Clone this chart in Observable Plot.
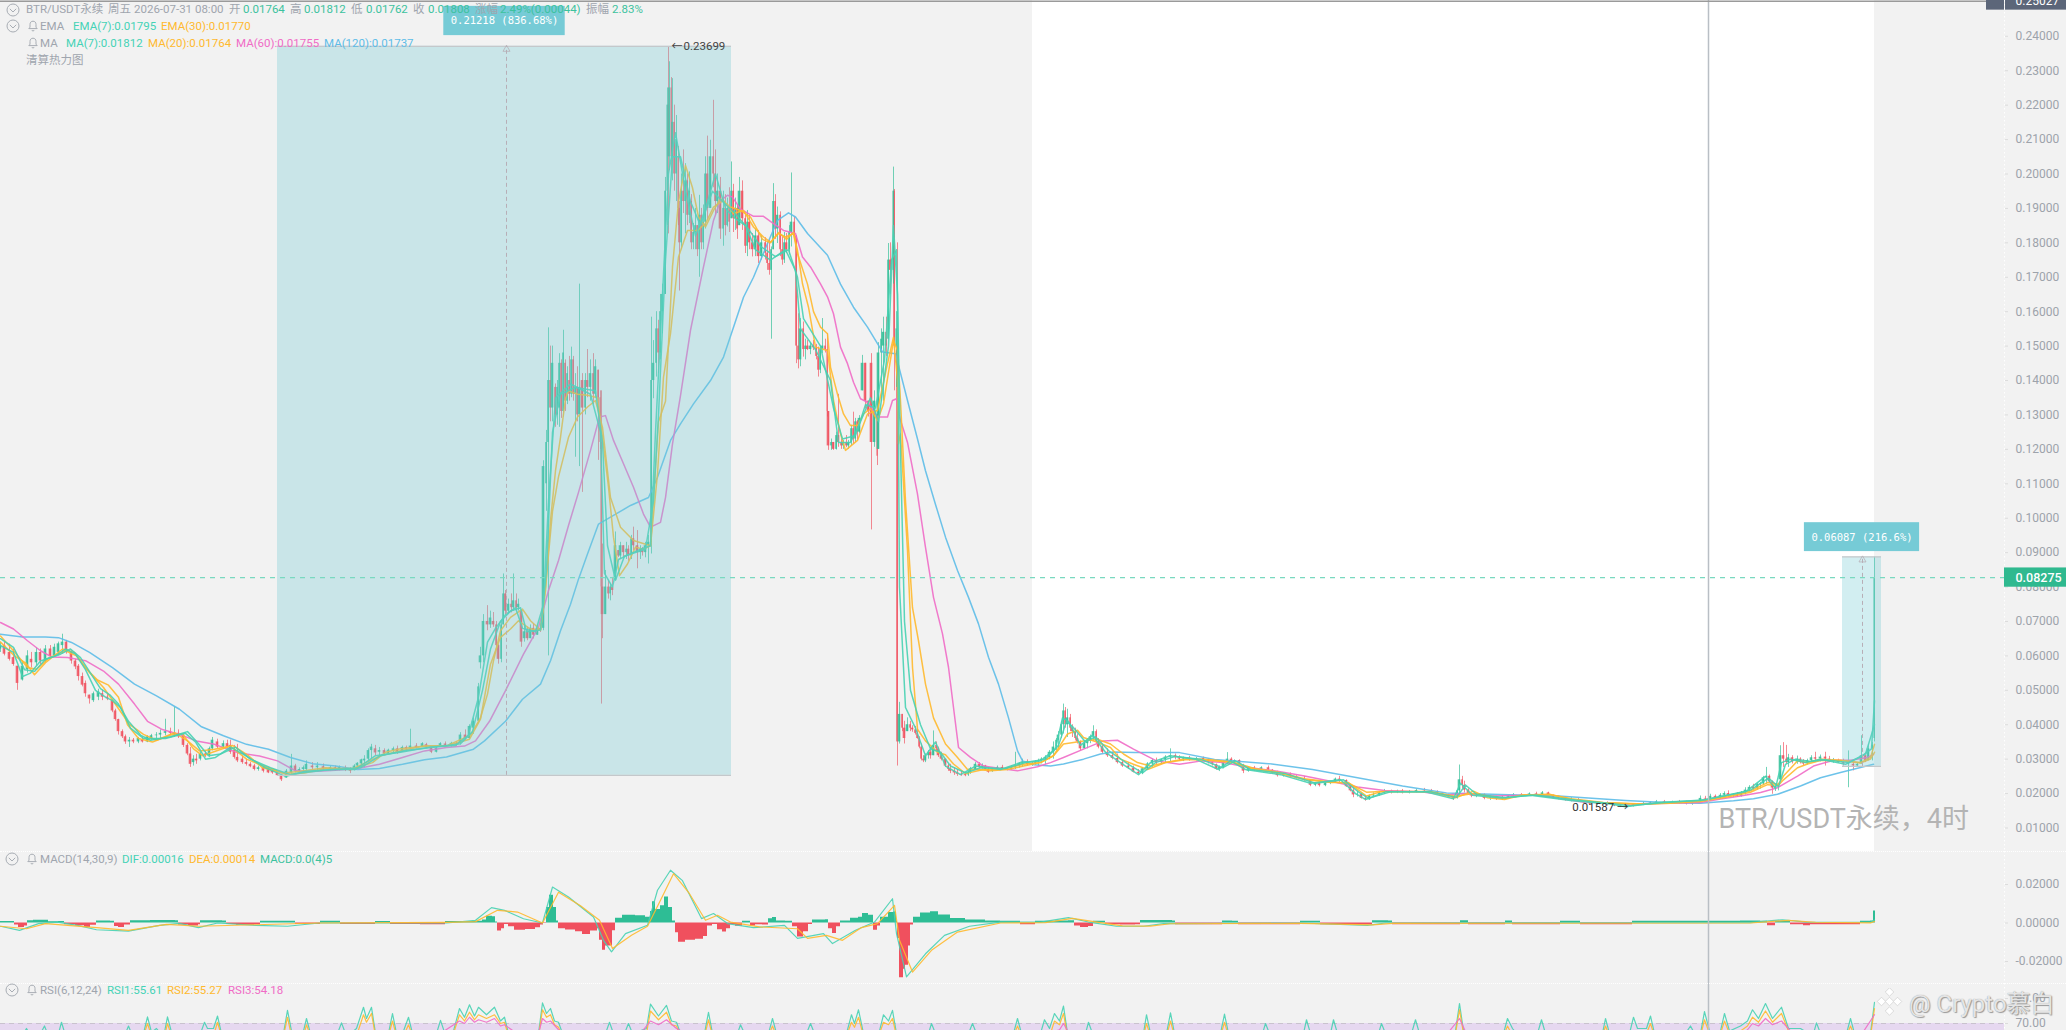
<!DOCTYPE html>
<html><head><meta charset="utf-8">
<script src="https://cdn.jsdelivr.net/npm/d3@7"></script>
<script src="https://cdn.jsdelivr.net/npm/@observablehq/plot@0.6"></script>
<style>
html,body{margin:0;padding:0;background:#F2F2F2;overflow:hidden}
#app{position:relative;width:2066px;height:1030px;overflow:hidden;font-family:Roboto,"Noto Sans CJK SC",sans-serif;background:#F2F2F2}
.pane{position:absolute;left:0}
.pane svg{display:block;background:transparent}
.t{position:absolute;white-space:nowrap;font-size:11.5px;line-height:14px}
</style></head><body><div id="app"></div>
<script>
// prices are in thousandths of USDT; the first column is the position along the time axis
// candle rows: [time, open, high, low, close]
const earlyBars=[[0,62,64,61,63],[4,63,64,60,60.5],[9,61,63.4,58.5,59],[13,59.5,62,57,57.5],[17,57,56.8,50,52],[22,53,58.5,52.7,57],[27,56,61.5,55,60],[31,59,61,56.5,58],[36,58,62.4,57,61],[40,61,62,57.5,58.5],[45,58.5,63,58,62],[50,62,63,59,59.8],[54,60,63.4,59.5,62.5],[58,61,64,60,63.5],[62,63,66.3,60.5,64],[66,64,64.5,60.5,61],[71,61,61.5,57.6,58.5],[75,58.5,59,56,56.8],[78,57,57.5,52.7,54],[82,54,55,51,51.5],[85,52,52.7,48,49],[89,48.6,48.4,46,47.5],[93,47,49.5,46.5,49],[98,48,50.3,47,49.5],[102,49,50,47,48],[107,48,48.9,47,47.5],[112,47,47.3,43.5,44],[115,44,44.5,41,41.5],[118,41.5,41.6,37,38],[122,38,38.5,36,36.5],[125,36.5,37,34.3,35],[129,35,36.3,33.4,35.5],[133,35.5,36,34.5,35],[138,35,36.3,34.5,36],[142,35.6,36.4,34.7,35],[147,35,36.8,34.8,36.5],[151,36,37.2,35.5,36.8],[156,36.8,37.7,35.8,37],[160,37,38.5,36,37.5],[165,37.5,41.6,36.8,38],[170,38,39,36.8,37.5],[174,37,45.2,36.3,37.5],[178,37.5,38.5,36,36.5],[183,37,37.2,33.4,34],[187,34,34.5,31,31.5],[190,31.5,33.4,27.6,28.5],[193,29,31,28,30],[196,30,31.4,28.5,29.5],[200,30,32,29.5,31.5],[205,31.5,32.4,30.5,31],[209,31,33.5,30.5,33],[212,33,36.3,32.4,35.5],[217,35,35.8,33,33.5],[223,33.5,35.3,32.9,34.5],[227,34.5,35.5,33,33.5],[230,34,35.5,31.4,32],[234,32.5,34,30,30.5],[237,30.5,34.3,29,29.5],[242,30,31,28.5,29],[246,29,30,28,28.5],[250,28.5,29,27.5,27.8],[254,28,28.5,26.6,27],[258,27,28,26.5,27.5],[263,27.5,28,26,26.5],[268,27,27.5,25.8,26],[272,26.5,27,25.6,26],[277,26,26.5,25,25.2],[281,25,25.6,23.5,24],[286,24.5,27,25,26.5],[291,26,31.4,25.6,28],[295,28,28.5,26,26.5],[299,26.5,27.5,25.6,27],[303,27,28,26.3,27.5],[306,27,29.5,26.6,28.5],[312,28,29,26.8,27.5],[317,27.5,29,26.6,28],[323,27.8,28.6,26.5,27.2],[330,27,28,26.4,27.5],[335,27.5,28,26.5,27],[339,27,28,26.6,27.6],[345,27.4,28,26.4,26.8],[350,27,27.5,25.8,26.5],[354,27,28.4,26.6,28],[357,28,29,27,28.8],[361,28.6,30,27.3,29.8],[364,29.5,31,27.5,30],[368,30,33,29.5,32.5],[371,32.5,34.3,30,33.5],[375,33,34,31,31.8],[379,32,33.4,31,32.5],[384,32.5,33,31,31.5],[388,31.5,32.9,31.2,32.6],[393,32.5,33.5,31.4,33],[397,33,33.8,31.4,32],[402,32,33.8,32,33.4],[406,33.4,33.8,32.4,33],[410,33,38.7,32.9,33.8],[416,33.8,34.5,33,33.3],[422,33.5,34.8,33.4,34.5],[426,34.2,34.6,33,33.4],[431,33.2,33.4,31.6,32],[436,32,33.5,31.8,33.2],[440,33.4,34.8,33.4,34.5],[445,34.4,35,33.5,34],[451,34,34.9,33.5,34.6],[456,34.6,35,33.7,34.4],[460,34.6,37.7,34.1,37],[465,37,38.5,35.5,36],[469,36,40,35.8,39.5],[473,39,42,37.2,41],[478,41,52,41,51]];
const riseBars=[[480,58,62.5,56.2,60],[483,60,72,58,70],[487,70,74.6,67.3,69],[490,69,73,68,71],[493,70,72.6,68.3,69],[496,69,70,62,63],[498,63,63.4,57.6,59],[501,59,70,58,69],[503,69,83.8,69.3,78],[505,78,79,72,73],[508,73,76.5,72,75],[511,75,78,72.5,74],[513,74,83.8,73,76],[516,76,78,73,74],[518,74,76.5,73,75],[521,73,73,62.5,64],[524,65,69,64,67],[527,67,68.3,64.4,65],[530,65,69,65,68],[533,68,69.3,64.9,66],[537,66,69,66,68],[540,68,69.3,66.8,67.5],[543,68,116.7,67.3,115],[546,110,125.5,102,122],[548,122,155.3,60,140],[550,140,150,128,132],[552,132,150,128,145],[555,138,139,126.4,130],[557,130,140,127,138],[559,132,147.8,126.4,145],[561,145,146,129,131],[563,131,154.6,129.4,148],[565,145,146,131,134],[567,134,144,133,142],[569,140,147,134,136],[571,136,149.7,135,146],[573,146,147,134,136],[575,136,142,117.7,138],[577,138,144,128,130],[579,130,168,115,138],[582,140,142,107.5,132],[585,132,142,130,140],[587,140,149,135,138],[590,138,146,134,142],[593,142,147.8,133,136],[595,136,146,135,144],[598,143,143,116.8,135],[600,135,137,120,122],[601,122,137,46,80],[602,80,92.5,65,72],[605,72,84.8,72,80],[608,80,81.9,76.5,78],[610,78,81,76,80],[612,80,82.8,77.5,79],[615,82,96,82.8,92],[618,90.6,90.6,88.6,89],[620,89,93,88,92],[623,92,92,88.6,90],[626,90,93,88,91],[628,91,92,87.5,89],[631,89,95,88,94],[633,94,97.4,90.6,92],[637,92,96.4,85.3,90],[640,90,92,88,91],[642,91,91.5,89,90],[645,90,93,88.5,92],[648,92,95,86.7,93],[651,93,158.4,89.6,140],[653,140,151.6,134.7,145],[656,145,160,141,155],[658,155,157.5,142,148],[660,148,165,146,160],[662,160,168,153.6,165]];
const peakBars=[[665,165,199,168,195],[667,195,225,185,220],[668,220,237,182.6,205],[669,205,232.6,201,225],[671,225,228,200,205],[672,205,227.7,198,215],[674,215,220,195,200],[676,200,217,192,210],[678,205,208,185,190],[679,190,192,166,180],[681,180,200,178,195],[683,195,207,188.5,192],[685,192,203,182.6,198],[687,198,200,185,188],[689,188,200.6,185.6,195],[691,192,194,178,180],[693,180,185.6,178,183],[695,183,190,178,185],[697,185,183.6,176,178],[699,178,193.8,170,188],[701,188,190,178,180],[703,180,191,178,186],[705,186,205,184,200],[707,200,211,186.5,190],[710,190,209.8,190.4,205],[713,205,221.4,196,200],[715,200,207,188,192],[717,192,200,188.5,195],[720,195,199,181,184],[723,184,195,179,190],[725,190,194,182,185],[727,185,193,184.6,190],[729,190,196,183,186],[731,187,203.5,187.5,195],[733,195,197,183,187],[735,187,193,183.6,190],[737,190,191,181,184],[739,185,199,188.5,195],[742,195,198,183.6,187],[745,187,188,176.9,179],[747,179,189.4,176,186],[749,186,188,178,180],[752,180,182.7,175.9,178],[755,178,184,176,182],[758,182,183.6,174,176],[761,176,182,175,180],[765,180,181.5,175,177],[767,177,180,172,174],[769,174,180.7,170.6,172],[771,172,178.8,152,178],[773,178,197.2,181.7,192],[775,192,194,181,184],[777,184,190.4,179.8,188],[780,188,189,176,178],[782,178,181.7,173.5,175],[784,175,183,174,180],[786,180,182.7,176.9,178],[789,178,185,176.5,183],[791,183,200.3,178.8,186],[794,186,187.5,180.7,182],[796,182,177.8,144.9,150]];
const crashBars=[[798,150,159.4,143.4,146],[800,146,158,144,155],[803,155,157,146.8,149],[805,149,152,146,150],[807,150,151.6,148.7,149],[810,149,151,147.5,150],[813,150,151.6,148.7,149.5],[816,149.5,150.5,146,147],[818,147,149.7,141,143],[820,143,150,142,149],[822,149,158,147.8,150],[825,150,152,148,149],[827,149,153.6,129.4,131],[828,131,129.4,119.7,121],[831,121,123,119.7,122],[833,122,121.1,119.7,120],[836,120,125,119.8,124],[838,124,136,120.6,122],[841,122,123,120,121],[843,121,122.6,120,122],[846,122,124,120.5,121],[848,121,122.6,120,122],[851,122,127,121,126],[853,126,130.8,121.6,123],[855,123,129,122,128],[857,128,128.4,122.6,125],[859,125,129.8,124.5,129],[862,137,147.3,137,145],[865,145,143.9,131.8,134],[868,134,134,129.4,131],[871,145,147.8,96.6,122],[874,122,137,120.6,134],[877,130,130,115.3,118],[878,120,151,120,148],[881,148,155,134,152],[883,150,158.4,134,154],[886,154,158.4,147,150],[888,152,179.8,152.6,175],[890,175,180,165,172],[893,172,202,168,195],[894,195,195.5,137,150],[896,150,160,138,155],[897,150,180,28,35],[899,35,46.5,34.4,43],[902,43,42,38,39],[904,39,41,34.4,36],[907,38,42,38,40],[910,40,41,38,39],[912,39,39.7,37.8,38.5],[915,38.5,39.5,37,37.5],[917,37.5,38.7,35.8,36],[919,36,36.5,33,33.5],[921,33.5,34.4,29.5,30],[923,30,31,29,29.5],[925,29.5,31.5,29,31],[928,31,32.5,30,32],[930,32,33.4,30,31],[933,31,38.2,32.4,34],[936,34,35,32.5,33],[938,33,33.5,30.5,31],[941,31,32,29.5,30],[945,30,29.5,27.6,28],[948,28,28.5,26.5,27],[950,27,28.5,25.8,26.5],[954,26.5,27.5,25.3,26],[957,26,27,25,25.6],[961,25.6,26.5,25,25.4],[965,25.5,26,24.9,25.2],[968,25.4,26.5,25,26.2],[970,26,27.6,25.6,27.2],[975,27,29,27,28.5],[979,28.5,29,27.2,27.6],[982,27.6,28.6,27.1,28],[985,28,28.2,26.8,27],[988,27,27.6,25.9,26.2],[992,26.4,27.5,26.2,27.2],[997,27.2,28,27,27.6],[1002,27.6,28.2,27,27.2],[1007,27.2,27.6,26.6,27],[1011,27,28,26.8,27.6],[1015,27.5,32,27,28],[1019,28,29,27.4,28.8],[1022,28.8,30,27.6,29.2],[1027,29.2,29.8,28,28.4],[1032,28.4,29.2,27.9,28.8],[1035,28.8,29.6,28.2,29.3],[1038,29.3,30,28,29.6],[1041,29.6,30.4,28.6,30],[1045,30,31,28.5,30.5],[1049,30.5,32.5,29.8,32],[1053,32,35,30,33.5],[1056,33.5,36,32.5,35.5],[1058,35.5,38,33,37],[1061,37,41,36,40],[1063,40,46,37.3,44],[1065,44,45,39,40],[1067,40,44.5,36.3,42],[1070,42,43,38,39],[1072,39,40,36.3,38],[1075,38,39,35.5,36],[1077,36,37.3,34.4,35],[1080,35,35.3,32.4,33],[1084,33,35,33,34.5],[1087,34.5,36,33,35.5],[1090,35.5,37,34.5,36.5],[1093,36.5,39.7,35.3,38],[1096,38,38.5,34.5,35],[1098,35,36,33,33.5],[1102,33.5,34,31.5,32],[1107,32,33,30.5,31],[1112,31,32,29.8,30.2],[1117,30.2,31.5,28.6,29],[1122,29,29.6,27.6,28],[1128,28,29,27,27.4],[1133,27.4,28,26,26.2],[1138,26.2,27,25.4,25.8],[1142,25.8,27.5,25.5,27.2],[1147,27.2,29,27,28.6]];
const baseBars=[[1152,28.6,30,27.6,29.6],[1156,29.6,30.3,28.4,29],[1161,29,30,28.5,29.8],[1165,29.8,31,29,30.6],[1170,30.6,33,29,31],[1175,31,31.5,29.8,30.4],[1179,30.4,31,29.4,30],[1183,30,30.6,29.3,30.2],[1189,30.2,30.8,29.4,29.8],[1196,29.8,30.5,29.5,30.2],[1203,30.2,30.6,29.4,29.8],[1208,29.8,30,28.6,29],[1212,29,29.4,28,28.4],[1216,28.4,28.6,26.8,27],[1219,27,28,26.4,27.6],[1223,27.6,29.5,27.2,29],[1227,29,31.9,28.5,30],[1231,30,30.4,28.8,29.2],[1234,29.2,29.8,28.5,29.6],[1239,29.6,29.8,28,28.2],[1243,28.2,28.5,25.8,26.5],[1248,26.5,27.8,26.2,27.4],[1254,27.4,27.9,26.4,27],[1261,27,27.8,26.6,27.5],[1268,27.5,28,26.5,26.8],[1272,26.8,27,25.6,25.9],[1277,25.9,26.5,24.8,25.2],[1283,25.2,26,24.8,25.6],[1290,25.6,26,24.6,24.9],[1296,24.9,25.2,24.2,24.4],[1304,24.4,25,23.6,24],[1310,23.8,23,22,22.4],[1315,22.4,23.2,22,22.9],[1319,22.9,23.1,21.9,22.3],[1325,22.3,23.2,22,23],[1330,23,23.6,22.6,23.2],[1335,23.2,24.5,23,24.2],[1339,24.2,25,23,23.8],[1346,23.8,24,21.8,22],[1350,22,22.4,20.5,20.8],[1353,20.8,22.2,18.8,19.6],[1357,19.6,20.6,19,19.8],[1361,19.8,20,18.4,18.6],[1365,18.6,19.3,17.8,18.2],[1369,18.2,19.6,18,19.3],[1373,19.3,20.2,18.8,19.6],[1379,19.6,20.6,19.2,20.2],[1384,20.2,21.2,19.8,20.6],[1391,20.6,21,19.9,20.4],[1397,20.4,21,20,20.7],[1402,20.7,21.2,19.9,20.2],[1409,20.2,20.9,19.9,20.5],[1416,20.5,21.2,20.2,20.9],[1424,20.9,21.5,20.5,20.8],[1431,20.8,21.2,20.2,20.5],[1437,20.5,20.8,19.8,20],[1442,20,20.2,19.3,19.6],[1448,19.6,19.8,18.8,19],[1453,19,19.2,18,18.4],[1457,18.6,21,18.4,20.8],[1459,20.8,28.3,19.3,24],[1462,24,25,21.5,22.4],[1464,22.4,23.6,20.2,21],[1468,21,21.4,19.6,20],[1471,20,20.2,18.8,19.3],[1476,19.3,20,18.8,19.6],[1484,19.6,19.9,18.2,18.6],[1490,18.6,19.2,18,18.8],[1496,18.8,19.2,18,18.4],[1502,18.4,19.3,18,18.9],[1508,18.9,19.5,18.5,19.3],[1513,19.3,20,18.8,19.6],[1521,19.6,20,19,19.4],[1529,19.4,20.2,19.2,19.9],[1536,19.9,20.4,19.2,19.6],[1542,19.6,20.6,19.3,20.2],[1548,20.2,20.4,19.2,19.4],[1553,19.4,19.6,18.6,18.8],[1558,18.8,19.3,18.2,18.6],[1565,18.6,18.9,17.8,18],[1571,18,18.8,17.6,18.2],[1578,18.2,18.6,17.4,17.7],[1584,17.7,18,17,17.2],[1589,17.2,17.8,16.6,17],[1597,17,17.6,16.6,17.3],[1607,17.3,17.6,16.4,16.8],[1614,16.8,17,16.2,16.4],[1620,16.4,16.8,16,16.2],[1625,16.2,16.7,15.87,16.4],[1633,16.4,17,16.1,16.8],[1643,16.8,17.5,16.5,17.1],[1650,17.1,17.6,16.7,17.3],[1656,17.3,18,17,17.6],[1664,17.6,18,17,17.2],[1672,17.2,17.8,16.9,17.5],[1679,17.5,18,17,17.4],[1686,17.4,17.8,16.7,17],[1692,17,17.4,16.6,17.2]];
const lateBars=[[1700,17.6,19.3,17.4,18.6],[1705,18.6,19.2,17.8,18.4],[1710,18.4,19.8,17.9,19.2],[1715,19.2,19.6,18.4,18.8],[1720,18.8,20,18.3,19.5],[1724,19.5,20.5,19,20],[1728,20,20.8,18.9,19.4],[1733,19.4,20,18.8,19.6],[1737,19.6,20.3,18.9,19.2],[1741,19.2,20.6,19,20.2],[1745,20.2,21.7,19.6,21],[1749,21,22.3,20.4,21.8],[1753,21.8,22.7,20.8,21.4],[1757,21.4,23,21,22.6],[1760,22.6,23.2,21.3,22.8],[1763,22.8,25,22.3,24.6],[1766,24.6,27.6,22.7,25],[1769,25,25.4,23,23.4],[1772,23.4,23.7,19.8,21.6],[1775,21.6,22.6,20.6,22],[1778,22,23,20.8,22.6],[1780,24,33.9,24,31],[1783,31,34.8,27.6,30],[1786,30,34,28.4,29],[1788,29,31.4,27.6,30.4],[1792,30.4,31,28.6,29.2],[1797,29.2,30.9,28.5,30],[1800,30,30.4,28.6,29],[1803,29,29.9,28,28.6],[1807,28.6,30,28.3,29.6],[1811,29.6,31,29,30.4],[1815,30.4,32,29,30],[1820,30,31.2,29.2,30.6],[1825,30.6,32,28,30],[1829,30,30.8,29,29.4],[1833,29.4,30.2,28.8,29.6],[1838,29.6,30,28.8,29],[1843,29,30,28,28.5],[1848,28.5,32.4,21.7,29],[1853,28.5,29.5,26.6,28],[1857,28,29,27.7,28.5],[1861,28.6,36.8,29,31],[1865,31,30.5,29,29.6],[1868,29.6,34.3,29.5,33],[1872,33,34.8,29.5,34],[1874,36,88.7,35,82.75]];

const ema7=[[0,63],[13,61],[22,54],[30,55],[40,58.5],[55,60],[65,62],[75,60.5],[85,56],[95,50],[105,48],[112,47],[120,45],[130,39],[143,36],[165,36],[185,37.5],[195,35],[205,30],[215,30.5],[230,33.5],[245,31],[265,27.5],[285,25],[300,26],[330,27],[355,27],[375,31],[400,32],[430,33.5],[455,34],[468,37],[478,48],[487,64],[495,68],[505,72],[515,74],[522,68],[535,67],[543,75],[548,105],[555,135],[570,139],[590,136],[600,125],[604,84],[612,80],[618,88],[640,91],[650,92],[655,125],[662,165],[668,200],[675,212],[685,195],[695,182],[705,190],[715,200],[725,190],[735,187],[745,185],[755,178],[770,175],[785,178],[795,172],[800,155],[815,149],[830,140],[838,122],[850,122],[860,128],[870,135],[878,128],[888,150],[893,185],[897,165],[899,80],[905,45],[915,39],[925,31],[935,35],[945,28],[960,25.5],[975,28],[1000,27],[1020,29],[1040,29.5],[1055,33],[1062,42],[1068,41],[1080,34],[1092,37],[1105,32],[1125,28],[1138,25.5],[1150,29],[1170,31],[1195,30],[1218,27],[1230,29.5],[1245,27],[1280,25.5],[1310,23],[1340,24],[1355,20],[1365,18.3],[1385,20.5],[1425,20.5],[1453,18.5],[1460,23],[1472,19.5],[1500,18.7],[1530,19.5],[1570,18],[1610,17],[1625,16.2],[1660,17.5],[1700,18],[1745,20.5],[1765,25],[1775,21.5],[1781,29],[1790,30],[1805,29],[1820,30],[1845,28.5],[1862,31],[1871,33],[1874,47]];
const ma7=[[0,65],[13,62.5],[24,56],[34,55.5],[45,59],[60,60.5],[70,62],[80,59.5],[90,55],[100,50.5],[110,48.5],[118,46],[128,41],[140,37],[150,35.5],[170,36.5],[187,38],[198,34.5],[208,31],[220,31.5],[235,33.5],[250,30],[270,27.5],[290,25.5],[305,26.5],[335,27],[360,27.5],[380,31],[405,32.5],[435,33.5],[460,34.5],[472,38],[482,50],[490,62],[500,70],[510,73],[520,74],[526,67],[540,67.5],[546,85],[552,125],[560,136],[575,138],[595,137],[602,122],[607,92],[615,82],[624,89],[645,91],[653,105],[658,130],[665,175],[672,205],[680,205],[690,192],[700,185],[712,195],[722,192],[733,189],[748,184],[760,179],[775,176],[788,178],[797,170],[803,158],[820,150],[833,132],[842,123],[855,124],[865,133],[875,132],[884,146],[891,175],[896,178],[900,120],[904,70],[910,50],[920,40],[930,33],[940,32],[950,28],[965,26],[980,27.5],[1005,27.3],[1025,29],[1045,30],[1058,34],[1066,41],[1072,39.5],[1085,35],[1095,36.5],[1108,32.5],[1128,28.5],[1142,26],[1155,29],[1175,30.8],[1200,30],[1222,27.5],[1235,29.5],[1250,27],[1285,25.8],[1315,23],[1343,24],[1358,20.5],[1368,18.6],[1390,20.5],[1430,20.5],[1456,18.9],[1465,22.5],[1476,19.8],[1505,18.8],[1535,19.6],[1575,18.1],[1615,17],[1630,16.5],[1665,17.4],[1705,18.2],[1750,21],[1768,24.5],[1778,22],[1785,28.5],[1795,30],[1810,29.3],[1825,29.8],[1848,29],[1865,31.5],[1874,40]];
const ema30=[[0,65.8],[13,61.5],[27,56.6],[36,56.1],[49,59.5],[65,61.5],[76,60],[89,55.2],[103,50.8],[116,45.5],[129,40.1],[143,37.2],[156,35.5],[174,37.7],[187,35.3],[199,32.4],[214,32.9],[230,33.8],[246,30],[263,28],[286,25.6],[304,26],[326,27.3],[353,27.3],[379,30.9],[402,32.6],[424,33.8],[446,33.8],[469,35.8],[480,41.6],[490,57.6],[500,65.4],[510,67.8],[518,70.2],[530,67.8],[540,67.5],[545,80],[552,102],[558,112],[568,123.5],[577,129.4],[587,132.3],[595,134.2],[602,126.4],[610,106],[620,97.4],[633,93.5],[650,92],[657,112.9],[663,141],[670,153.6],[678,175.9],[687,183.6],[697,183.6],[705,185.6],[713,190.4],[723,192.3],[733,188.5],[743,189.4],[753,184.6],[763,181.7],[770,180.2],[778,182.7],[785,181.7],[793,182.7],[797,176.9],[807,168],[813,160],[820,155.5],[827,153.6],[830,143.9],[837,136],[843,130.3],[850,126.9],[857,126.9],[863,130.3],[870,131.8],[877,128.4],[883,133.2],[893,151.6],[897,148.7],[900,134],[905,105],[912,74],[918,64.4],[925,51.8],[933,42],[945,34.4],[957,30.5],[967,27],[977,27],[990,26.6],[1007,27],[1023,28],[1040,29],[1053,31],[1063,34.4],[1083,35.3],[1097,35.8],[1110,34.4],[1123,31.5],[1137,29],[1150,28],[1165,29],[1187,30.2],[1210,29.8],[1232,29.2],[1254,27.3],[1277,26.3],[1304,24.3],[1330,23.4],[1348,23],[1366,20.4],[1380,20.6],[1402,20.6],[1429,20.6],[1455,19.2],[1473,20],[1487,19.3],[1504,18.6],[1522,19.5],[1549,19.7],[1571,18.5],[1603,17.4],[1643,17],[1670,17.2],[1700,17.7],[1727,19],[1750,20.4],[1767,22.6],[1778,22.4],[1783,24],[1797,27.5],[1807,28.6],[1820,29.6],[1840,29.6],[1860,28.9],[1870,30],[1874,32]];
const ma20=[[0,64],[14,60],[25,58],[34,54.5],[45,58],[62,62],[74,61],[85,56.5],[97,53],[108,51.5],[118,48],[127,40],[138,36],[152,35],[170,37],[182,37.3],[193,33],[202,31],[217,32.5],[232,34],[248,31],[262,27.5],[283,26],[300,26.5],[325,27.5],[350,27],[372,29],[385,32],[400,33],[425,33.8],[447,34],[470,37],[480,42],[487,48.9],[493,58.6],[500,67.3],[510,71.2],[522,73.6],[530,70.2],[540,67.5],[545,79],[550,99.3],[555,113.8],[560,123.5],[565,134.7],[568,137],[577,136],[587,135.7],[597,135],[602,123.5],[608,109],[613,94.5],[619,83.3],[627,86.7],[635,91.6],[643,91],[650,92],[658,128],[665,134],[672,173],[678,192],[685,202.5],[692,196],[698,187.5],[705,184.6],[713,189.4],[720,192.8],[730,190.4],[740,189.4],[750,187.5],[762,181],[770,180],[778,183],[786,181],[793,183],[797,177.8],[802,168.1],[808,161.3],[815,149.7],[827,148.7],[833,134.2],[840,124.5],[845,119.7],[857,122.6],[867,130.3],[877,131.3],[887,144.9],[893,152.6],[897,140],[898,121.6],[900,124.5],[907,90.6],[912,56.7],[917,38.7],[925,35.3],[937,32],[945,31.3],[953,28.6],[965,25.8],[983,27],[1000,27],[1023,28.5],[1040,29],[1053,31],[1067,37.3],[1077,38.4],[1083,36.3],[1097,34.9],[1110,33.4],[1120,30],[1133,28.5],[1147,27],[1165,29],[1187,29.9],[1210,29.6],[1232,29],[1254,27],[1277,26],[1304,24.1],[1330,23.2],[1348,23.2],[1366,19.3],[1380,20.5],[1402,20.5],[1429,20.5],[1455,18.8],[1473,20.7],[1487,18.8],[1504,18.3],[1522,19.6],[1549,19.8],[1571,18.3],[1603,17.3],[1643,16.9],[1670,17.3],[1700,17.9],[1727,19.3],[1750,20.8],[1767,23.2],[1778,22.7],[1783,25.1],[1797,29.5],[1807,29],[1820,30],[1840,29.7],[1860,29],[1870,30.5],[1874,34.3]];
const ma60=[[0,69.7],[13,67.8],[27,64.4],[40,61.5],[51,59.7],[67,59.5],[85,58.6],[103,55.6],[118,51.8],[134,46],[147,41],[161,38.7],[179,37.2],[196,35.3],[214,34.3],[237,31.9],[259,30.9],[277,29.5],[295,26.6],[312,26.4],[335,26.8],[357,27.3],[379,28.5],[402,30.5],[424,32.4],[446,33.4],[464,33.8],[475,35.3],[489,41],[505,49.9],[523,60.5],[538,68.3],[548,79],[558,87.7],[568,97.9],[578,107.5],[590,119.7],[599,129.4],[605,129.8],[613,122.6],[623,115.8],[633,109],[643,101.2],[650,97.4],[660,98.8],[665,106],[672,121.6],[680,135.6],[690,154.6],[703,173],[713,186.5],[720,192.3],[727,193.8],[732,193.3],[740,189.8],[753,187.7],[763,187.7],[773,185.6],[783,183.6],[795,182.7],[802,175.9],[810,173],[820,168.1],[827,164.3],[833,159.4],[840,149.7],[847,144.9],[853,139.5],[860,134.7],[867,133.7],[877,129.4],[887,129.4],[892,134.2],[896,134.7],[899,129.4],[907,122],[917,107],[925,91.5],[933,77],[942,66.4],[948,56.7],[953,45],[958,33.4],[970,30.5],[983,28],[1000,27.3],[1017,26.6],[1037,27.8],[1050,29],[1063,30.5],[1083,32.9],[1103,35.3],[1117,35.5],[1133,32.9],[1156,29.5],[1179,28.5],[1201,29.5],[1223,29],[1250,27.5],[1277,26.5],[1304,25.1],[1330,23.6],[1357,21.9],[1384,20.9],[1420,20.5],[1446,19.6],[1464,20],[1491,19.3],[1536,19.6],[1580,17.6],[1625,17],[1670,17.2],[1700,17.4],[1720,18.4],[1740,19.3],[1760,20.3],[1777,21.7],[1797,25.1],[1813,28],[1833,29.7],[1850,29.7],[1867,30.5],[1873,31.4]];
const ma120=[[0,66.3],[22,65.5],[45,65.5],[58,65.3],[71,63.9],[89,61],[112,56.6],[134,51.8],[156,48.4],[179,44.5],[201,39.4],[223,36.8],[246,34.3],[268,32.9],[290,30.5],[312,28.7],[335,28],[357,27],[379,27.3],[402,28.5],[424,29.8],[446,30.6],[473,32.9],[484,35.3],[505,41],[522,47.4],[540,51.8],[550,58.6],[560,67.3],[570,75],[578,82.3],[587,89.6],[598,98.3],[613,100.8],[630,103.7],[648,106],[657,111.9],[670,122.6],[680,127.4],[693,133.2],[710,140],[723,146.8],[733,155.5],[743,164.2],[753,170],[767,179.8],[777,186.5],[788,188.7],[795,187.5],[807,182.7],[827,176.4],[840,168],[853,161.3],[867,155.5],[882,148.3],[895,147.8],[907,134.2],[917,123],[925,113.8],[935,104],[945,94.5],[957,84.8],[968,77],[978,69.3],[988,59.6],[998,51.8],[1008,42],[1017,32.4],[1022,29.5],[1033,28.4],[1050,28],[1063,28.6],[1083,30],[1100,31.5],[1113,32.1],[1134,31.9],[1179,31.9],[1214,29.9],[1268,28.7],[1312,27],[1357,24.6],[1402,22.2],[1446,20.2],[1491,19.8],[1558,19.3],[1625,18],[1670,17.3],[1700,17.2],[1733,17.9],[1753,18.5],[1777,19.8],[1800,22.2],[1820,24.6],[1840,26.1],[1873,28.5]];

const macdHist=[[0,.8],[12,.8],[14,-1],[18,-2.4],[24,-1.5],[27,1.2],[33,1.4],[45,1.4],[48,.6],[58,.8],[64,-.9],[75,-1.4],[84,-2.4],[90,-1.2],[96,1],[110,.9],[114,-1.8],[118,-2.4],[124,-1],[130,1.2],[150,1.3],[175,1.2],[178,-1],[188,-1.6],[198,-.9],[200,1.2],[222,1],[226,-.8],[236,-1.2],[254,-.9],[260,.9],[285,.9],[295,-.8],[320,.9],[340,-.8],[375,.8],[390,-.8],[420,-.9],[445,.8],[475,.9],[482,1.6],[486,3.5],[492,3.2],[495,.5],[497,-4.2],[501,-3],[504,-.8],[508,-2],[514,-3.8],[525,-3.4],[535,-2.5],[540,-1],[543,-.2],[546,8],[549,14.4],[553,8],[556,1],[558,-3],[565,-3.6],[575,-4.5],[582,-6],[590,-4.2],[597,-3],[599,-9],[602,-14.2],[605,-12],[608,-12],[612,-4],[615,2.5],[622,4],[635,3.8],[645,3],[650,6],[652,11],[655,7],[660,9],[664,13.5],[668,8],[672,1],[675,-5],[678,-10],[685,-9],[695,-8.5],[703,-7],[707,-1.5],[712,-.8],[717,-3.5],[722,-4.7],[726,-3],[730,-.9],[735,-1.7],[742,.9],[750,-1.6],[755,-.9],[762,-1],[768,2.2],[772,2.8],[776,1],[785,.9],[792,-2],[797,-7.3],[803,-4.5],[808,-.8],[812,1.5],[825,1.7],[828,-3],[832,-5.5],[836,-2],[840,1],[850,2.5],[858,3],[862,5],[868,4],[873,-3.8],[877,-1.5],[880,3],[888,5.5],[893,5.7],[896,1],[897,-8],[899,-28.4],[903,-24],[905,-22],[908,-12],[910,-1],[913,3],[920,5.2],[930,5.8],[938,4.2],[950,2.4],[965,1.5],[985,1],[1000,.9],[1010,.9],[1020,-.9],[1035,.9],[1045,.9],[1055,1],[1068,1.2],[1074,-1.5],[1080,-2.4],[1088,-1.8],[1093,.9],[1105,-.9],[1120,-1],[1135,-.9],[1140,1.3],[1172,1.1],[1175,-.9],[1210,-.9],[1222,1.1],[1232,.9],[1238,-.9],[1250,-.9],[1268,-.9],[1300,.9],[1320,-.9],[1345,-.9],[1368,-.9],[1372,1.2],[1388,1.1],[1392,-.9],[1440,-.9],[1460,1.2],[1468,-.9],[1505,1],[1512,-.9],[1560,.9],[1580,-.9],[1612,-.9],[1632,.9],[1705,.9],[1740,1],[1760,.9],[1767,-1.4],[1775,.9],[1790,-.9],[1803,-1.4],[1810,-.9],[1840,-.9],[1845,-.9],[1860,.9],[1870,1],[1873,6.2],[1875,0]];
const macdDif=[[0,-1.7],[19,-3.8],[38,-.3],[57,.5],[77,-1.2],[96,-3.5],[128,-4.2],[159,-1.2],[179,-.2],[198,-2.4],[217,0],[255,-1.2],[287,-1.7],[319,0],[446,0],[475,1.4],[491,8],[504,6.6],[523,2.2],[542,0],[552,18.7],[568,13.5],[593,3.1],[603,-9],[611,-15],[625,-5.5],[647,-1.2],[657,17],[670,27.4],[682,22],[701,2.3],[713,4.9],[727,-.3],[753,-2.4],[784,-1.2],[797,-8],[823,-5.5],[832,-10.7],[855,-3.8],[874,.5],[892,12.6],[896,-5.5],[906,-28],[925,-16],[944,-6.4],[969,-1.7],[1000,.5],[1040,.5],[1068,2.8],[1088,.5],[1116,-1.7],[1143,-1.7],[1163,-.3],[1300,0],[1367,-1.2],[1385,0],[1750,.2],[1782,1.7],[1806,.5],[1870,.4],[1874,1.5]];
const macdDea=[[0,-1.7],[26,-3],[45,-.3],[96,-2.4],[128,-3.8],[166,-.7],[198,-1.7],[255,-.9],[319,0],[446,.3],[475,.7],[497,6.6],[517,5.7],[542,0],[558,16],[580,9],[599,1.4],[612,-13.3],[631,-6.4],[647,-1.7],[660,11.8],[673,25.6],[689,15.2],[705,1.4],[717,4],[730,.5],[759,-2],[797,-3],[807,-8],[826,-6.4],[842,-9],[861,-2.4],[877,-.3],[894,9.2],[899,-9],[912,-25.5],[931,-14.2],[957,-4.7],[1000,0],[1045,.2],[1072,2.4],[1095,.6],[1122,-1.5],[1150,-1.6],[1170,-.4],[1300,-.2],[1372,-1],[1392,-.2],[1750,0],[1788,1.4],[1815,.4],[1870,.1],[1874,.8]];

const rsi1=[[0,62],[23,62],[26,66],[29,62],[40,62],[44,68],[47,62],[58,62],[61,71],[64,63],[100,62],[125,62],[128,68],[131,62],[143,62],[147,75.3],[151,63],[156,66],[160,62],[164,63],[167,75.3],[171,63],[200,62],[204,71],[207,66],[213,66],[217,76],[221,62],[283,62],[287,80.6],[291,64],[297,62],[303,64],[306,74],[310,62],[337,62],[341,70.5],[345,62],[350,62],[356,66],[363,83],[366,74],[371,83],[375,62],[388,62],[392,78],[396,62],[403,64],[408,75],[412,62],[436,62],[440,72.5],[444,63],[453,64],[459,82],[464,75],[469,85],[474,76],[478,83],[486,77],[494,83],[500,72],[504,75],[508,62],[538,62],[542,86.5],[546,78],[550,82],[554,72],[558,71],[562,62],[605,62],[609,71],[613,62],[624,62],[628,70],[632,62],[646,66],[650,85.5],[658,76],[666,84.5],[671,72],[676,71],[680,62],[704,62],[708,79],[712,62],[737,62],[740,69],[744,62],[768,62],[772,74],[776,62],[806,62],[810,70],[814,62],[846,62],[851,77],[854,70],[858,81],[863,62],[879,64],[883,77],[888,72],[892,80.5],[896,62],[928,62],[931,70],[935,62],[968,62],[972,70],[976,62],[1013,62],[1017,74],[1021,62],[1040,62],[1044,73],[1049,66],[1054,78],[1059,72],[1063,84],[1067,62],[1085,62],[1088,71],[1092,62],[1143,62],[1146,77],[1150,62],[1166,62],[1170,78.5],[1174,62],[1220,62],[1224,77.5],[1228,62],[1262,62],[1265,70],[1269,62],[1303,62],[1306,73],[1310,62],[1330,62],[1333,73],[1337,62],[1378,62],[1381,70],[1385,62],[1411,62],[1415,73],[1419,62],[1455,64],[1459,86],[1463,64],[1503,62],[1507,74],[1512,66],[1516,62],[1537,62],[1541,73],[1545,62],[1602,62],[1605,74],[1609,62],[1629,62],[1633,75],[1637,66],[1646,66],[1650,76],[1654,62],[1685,62],[1690,68],[1694,62],[1700,62],[1704,79.5],[1709,64],[1720,64],[1724,78],[1729,64],[1740,68],[1747,72],[1752,81],[1758,74],[1765,86],[1772,74],[1781,83],[1788,66],[1800,66],[1804,64],[1813,62],[1816,70.5],[1820,62],[1846,62],[1850,74],[1854,62],[1870,62],[1874,87]];
const rsi2=[[0,60],[143,60],[147,70],[151,60],[164,60],[167,70],[171,60],[213,60],[217,71],[221,60],[283,60],[287,75],[291,60],[303,60],[306,69],[310,60],[356,60],[363,77],[366,71],[371,78],[375,60],[388,60],[392,72],[396,60],[403,60],[408,69],[412,60],[453,62],[459,77],[464,72],[469,79],[474,73],[478,77],[486,74],[494,77],[500,70],[504,71],[508,60],[538,60],[542,81],[546,75],[550,77],[554,69],[558,67],[562,60],[646,62],[650,80],[658,73],[666,79],[671,69],[676,68],[680,60],[704,60],[708,73],[712,60],[768,60],[772,68],[776,60],[846,60],[851,71],[854,67],[858,75],[863,60],[879,62],[883,71],[888,69],[892,74],[896,60],[1013,60],[1017,68],[1021,60],[1050,62],[1054,72],[1059,69],[1063,78],[1067,60],[1143,60],[1146,70],[1150,60],[1166,60],[1170,72],[1174,60],[1220,60],[1224,71],[1228,60],[1455,62],[1459,81],[1463,62],[1503,60],[1507,68],[1512,60],[1602,60],[1605,68],[1609,60],[1646,62],[1650,70],[1654,60],[1700,60],[1704,73],[1709,62],[1720,62],[1724,72],[1729,62],[1740,64],[1747,68],[1752,75],[1758,71],[1765,80],[1772,71],[1781,78],[1788,64],[1800,62],[1813,60],[1846,60],[1850,68],[1854,60],[1870,60],[1874,82]];
const rsi3=[[0,56],[436,60],[459,72],[464,70],[469,75],[474,71],[478,73],[486,71],[494,74],[500,68],[504,69],[520,60],[538,62],[542,74],[546,71],[550,72],[558,65],[565,62],[640,62],[650,72],[658,69],[666,73],[676,66],[690,60],[1040,60],[1059,65],[1063,70],[1070,60],[1445,60],[1459,74],[1467,60],[1740,60],[1747,65],[1752,70],[1758,68],[1765,74],[1772,69],[1781,72],[1790,64],[1798,62],[1860,60],[1874,77]];

const priceTicks=[10,20,30,40,50,60,70,80,90,100,110,120,130,140,150,160,170,180,190,200,210,220,230,240];
const macdTicks=[-20,0,20];
const rsiTicks=[70,90];
const lastPrice=82.75;
const rangeLeft={x1:277,x2:731,low:25.3,high:237.1,mid:506,label:"0.21218 (836.68%)",labelLow:240.2,labelHigh:248.7};
const rangeRight={x1:1842,x2:1881,low:27.9,high:88.75,mid:1862,label:"0.06087 (216.6%)",labelLow:90.3,labelHigh:98.7};
const whiteSpan=[1032,1874];
const crosshairAt=1708;
const headerRow=[["BTR/USDT永续",26,0],["周五",108,0],["2026-07-31 08:00",134,0],["开",229,0],["0.01764",243,1],["高",290,0],["0.01812",304,1],["低",351,0],["0.01762",366,1],["收",413,0],["0.01808",428,1],["涨幅",475,0],["2.49%(0.00044)",500,1],["振幅",586,0],["2.83%",612,1]];
const emaRow=[["EMA",40,0],["EMA(7):0.01795",73,2],["EMA(30):0.01770",161,3]];
const maRow=[["MA",40,0],["MA(7):0.01812",66,2],["MA(20):0.01764",148,3],["MA(60):0.01755",236,4],["MA(120):0.01737",324,5]];
const macdRow=[["MACD(14,30,9)",40,0],["DIF:0.00016",122,2],["DEA:0.00014",189,3],["MACD:0.0(4)5",260,1]];
const rsiRow=[["RSI(6,12,24)",40,0],["RSI1:55.61",107,2],["RSI2:55.27",167,3],["RSI3:54.18",228,4]];

const TEAL="#47D1B3",UP="#2EBD95",DOWN="#F0505E",ORANGE="#FFB92E",PINK="#F06CC6",BLUE="#5DBDE8",BOX="#76CBD6",GRAY="#9FA5AE";
const legendColors=[GRAY,"#3CC29E","#45D2B6",ORANGE,PINK,BLUE];
const FONT='Roboto,"Noto Sans CJK SC",sans-serif';

const bars=[...earlyBars,...riseBars,...peakBars,...crashBars,...baseBars,...lateBars].map(([x,o,h,l,c])=>({x,o,h:Math.max(h,o,c),l:Math.min(l,o,c),c}));
bars.forEach((b,i)=>{const n=bars[i+1];const gap=n?n.x-b.x:1;b.w=Math.min(1.3,Math.max(.55,gap/2-.2));});
const ups=bars.filter(b=>b.c>=b.o),downs=bars.filter(b=>b.c<b.o);
const line=(rows,stroke,w=1.5,op=.9)=>Plot.line(rows,{x:d=>d[0],y:d=>d[1],stroke,strokeWidth:w,strokeOpacity:op});
const xScale={domain:[0,2004],range:[0,2004],axis:null};
const base={width:2066,marginLeft:0,marginRight:62,marginTop:0,marginBottom:0,style:{background:"transparent",fontFamily:FONT}};
const axisRight=(ticks,fmt)=>Plot.axisY(ticks,{anchor:"right",tickSize:3,tickPadding:8,label:null,tickFormat:fmt,fill:"#9DA3AB",stroke:"#dcdcdc",fontSize:12});

function rangeMarks(r){
  return [
    Plot.rect([r],{x1:"x1",x2:"x2",y1:"low",y2:"high",fill:BOX,fillOpacity:.33}),
    Plot.ruleY([r.low,r.high],{x1:r.x1,x2:r.x2,stroke:"#C4C8CB",strokeWidth:1.3}),
    Plot.ruleX([r.mid],{y1:r.low,y2:r.high,stroke:"#B7AEB6",strokeWidth:1,strokeDasharray:"4,3"}),
    Plot.dot([r],{x:"mid",y:"high",symbol:"triangle",r:2.6,dy:3,stroke:"#B7AEB6",fill:"none",strokeWidth:.8})
  ];
}
function labelMarks(r){
  return [
    Plot.rect([r],{x1:d=>(d.x1+d.x2)/2-(d.label.length*3.1+8),x2:d=>(d.x1+d.x2)/2+(d.label.length*3.1+8),y1:"labelLow",y2:"labelHigh",fill:BOX}),
    Plot.text([r],{x:d=>(d.x1+d.x2)/2,y:d=>(d.labelLow+d.labelHigh)/2,text:"label",fill:"#fff",fontSize:10.5,fontFamily:"'DejaVu Sans Mono',monospace"})
  ];
}

const mainPlot=Plot.plot({...base,height:851,x:xScale,y:{domain:[10,240],range:[827.5,35.8],axis:null},marks:[
  Plot.rect([whiteSpan],{x1:d=>d[0],x2:d=>d[1],y1:3.2,y2:250.4,fill:"#fff"}),
  Plot.ruleX(downs,{x:"x",y1:"l",y2:"h",stroke:DOWN,strokeWidth:.9,strokeOpacity:.75}),
  Plot.rect(downs,{x1:d=>d.x-d.w,x2:d=>d.x+d.w,y1:"o",y2:"c",fill:DOWN,fillOpacity:.85}),
  Plot.ruleX(ups,{x:"x",y1:"l",y2:"h",stroke:UP,strokeWidth:.9,strokeOpacity:.75}),
  Plot.rect(ups,{x1:d=>d.x-d.w,x2:d=>d.x+d.w,y1:"o",y2:"c",fill:UP,fillOpacity:.85}),
  line(ma120,BLUE),
  line(ma60,PINK),
  line(ema30,ORANGE),
  line(ma20,ORANGE),
  line(ma7,TEAL,1.5),
  line(ema7,TEAL,1.5),
  ...rangeMarks(rangeLeft),
  ...rangeMarks(rangeRight),
  Plot.text([{x:683,p:236.99,t:"0.23699"}],{x:"x",y:"p",text:"t",textAnchor:"start",fill:"#444",fontSize:11.5}),
  Plot.text([{x:682,p:236.99,t:"←"}],{x:"x",y:"p",text:"t",textAnchor:"end",fill:"#444",fontSize:11}),
  Plot.text([{x:1628,p:15.87,t:"0.01587 →"}],{x:"x",y:"p",text:"t",textAnchor:"end",fill:"#333",fontSize:11.5}),
  Plot.text([{x:1718,p:12.6,t:"BTR/USDT永续，4时"}],{x:"x",y:"p",text:"t",textAnchor:"start",fill:"#B4B4B4",fontSize:27}),
  Plot.ruleY([lastPrice],{x1:0,x2:2004,stroke:"#7AD9C0",strokeWidth:1.4,strokeDasharray:"5,5"}),
  Plot.ruleX([2004],{stroke:"#fff",strokeDasharray:"1.5,2.5"}),
  axisRight(priceTicks,d=>(d/1000).toFixed(5)),
  Plot.rect([lastPrice],{x1:2004,x2:2066,y1:d=>d-2.8,y2:d=>d+2.8,fill:"#2FB98F"}),
  Plot.text([lastPrice],{x:2015,y:d=>d,text:d=>(d/1000).toFixed(5),textAnchor:"start",fill:"#fff",fontSize:12.5,fontWeight:500}),
  Plot.ruleX([crosshairAt],{stroke:"#B9BFC5",strokeWidth:1.5}),
  Plot.ruleY([250.2],{x1:0,x2:1986,stroke:"#9a9a9a",strokeWidth:1.5}),
  ...labelMarks(rangeLeft),
  ...labelMarks(rangeRight),
  Plot.rect([0],{x1:1986,x2:2004,y1:247.6,y2:251,fill:"#5C6679"}),
  Plot.rect([0],{x1:2005,x2:2066,y1:247.6,y2:251,fill:"#5C6679"}),
  Plot.text(["0.25027"],{x:2015,y:250.1,text:d=>d,textAnchor:"start",fill:"#fff",fontSize:12})
]});

const posHist=macdHist.map(d=>[d[0],Math.max(0,d[1])]),negHist=macdHist.map(d=>[d[0],Math.min(0,d[1])]);
const macdPlot=Plot.plot({...base,height:132,x:xScale,y:{domain:[-20,20],range:[110,33],axis:null},marks:[
  Plot.areaY(posHist,{x:d=>d[0],y:d=>d[1],curve:"step-after",fill:UP}),
  Plot.areaY(negHist,{x:d=>d[0],y:d=>d[1],curve:"step-after",fill:DOWN}),
  line(macdDif,TEAL,1.2),
  line(macdDea,ORANGE,1.2),
  Plot.ruleX([2004],{stroke:"#fff",strokeDasharray:"1.5,2.5"}),
  axisRight(macdTicks,d=>(d/1000).toFixed(5)),
  Plot.ruleX([crosshairAt],{stroke:"#B9BFC5",strokeWidth:1.5})
]});

const rsiPlot=Plot.plot({...base,height:47,x:xScale,y:{domain:[70,90],range:[40,15],axis:null},marks:[
  Plot.rect([0],{x1:0,x2:2004,y1:60,y2:70,fill:"#E6D8F0"}),
  Plot.ruleY([70],{x1:0,x2:2004,stroke:"#C9C2CE",strokeDasharray:"5,4"}),
  line(rsi1,TEAL,1.2),
  line(rsi2,ORANGE,1.2),
  line(rsi3,PINK,1.2),
  Plot.ruleX([2004],{stroke:"#fff",strokeDasharray:"1.5,2.5"}),
  axisRight(rsiTicks,d=>d.toFixed(2)),
  Plot.ruleX([crosshairAt],{stroke:"#B9BFC5",strokeWidth:1.5})
]});

const app=document.getElementById("app");
[[mainPlot,0,851],[macdPlot,851,132],[rsiPlot,983,47]].forEach(([p,top,h])=>{
  const d=document.createElement("div");d.className="pane";d.style.top=top+"px";d.style.height=h+"px";d.appendChild(p);app.appendChild(d);
});
function sep(y){const d=document.createElement("div");d.style.cssText=`position:absolute;left:0;top:${y}px;width:2066px;border-top:1px dotted #fff`;app.appendChild(d);}
sep(851);sep(983);
function row(items,y){items.forEach(([t,x,c])=>{const s=document.createElement("span");s.className="t";s.textContent=t;s.style.left=x+"px";s.style.top=(y-7)+"px";s.style.color=legendColors[c];app.appendChild(s);});}
row(headerRow,9);row(emaRow,26);row(maRow,43);row([["清算热力图",26,0]],60);row(macdRow,859);row(rsiRow,990);
function icon(html,x,y,w,h){const d=document.createElementNS("http://www.w3.org/2000/svg","svg");d.setAttribute("width",w);d.setAttribute("height",h);d.setAttribute("viewBox",`0 0 ${w} ${h}`);d.style.cssText=`position:absolute;left:${x}px;top:${y}px`;d.innerHTML=html;app.appendChild(d);}
const chev='<circle cx="7" cy="7" r="6" fill="none" stroke="#A8ADB4"/><path d="M3.8 5.8L7 9l3.2-3.2" fill="none" stroke="#A8ADB4"/>';
const bell='<path d="M5 1.2c-2 0-3 1.4-3 3.3v2.7l-1.2 1.4h8.4L8 7.2V4.5c0-1.9-1-3.3-3-3.3zM4 10a1 1 0 002 0" fill="none" stroke="#A8ADB4"/>';
[[6,3],[6,19],[5,852],[5,983]].forEach(([x,y])=>icon(chev,x,y,14,14));
[[28,20],[28,37],[27,853],[27,984]].forEach(([x,y])=>icon(bell,x,y,11,12));
// watermark
icon('<g fill="#fff" stroke="#c9c9c9" stroke-width=".6"><rect x="10.5" y="1" width="6" height="6" transform="rotate(45 13.5 4)"/><rect x="2.5" y="10.5" width="6" height="6" transform="rotate(45 5.5 13.5)"/><rect x="10.5" y="10.5" width="6" height="6" transform="rotate(45 13.5 13.5)"/><rect x="18.5" y="10.5" width="6" height="6" transform="rotate(45 21.5 13.5)"/><rect x="10.5" y="20" width="6" height="6" transform="rotate(45 13.5 23)"/></g>',1876,988,28,28);
const wm=document.createElement("div");wm.textContent="@ Crypto慕白";wm.style.cssText='position:absolute;left:1909px;top:989px;font-size:24px;line-height:30px;white-space:nowrap;color:rgba(255,255,255,.75);text-shadow:1px 1px 1px #999,0 0 1px #888;';app.appendChild(wm);
</script></body></html>
